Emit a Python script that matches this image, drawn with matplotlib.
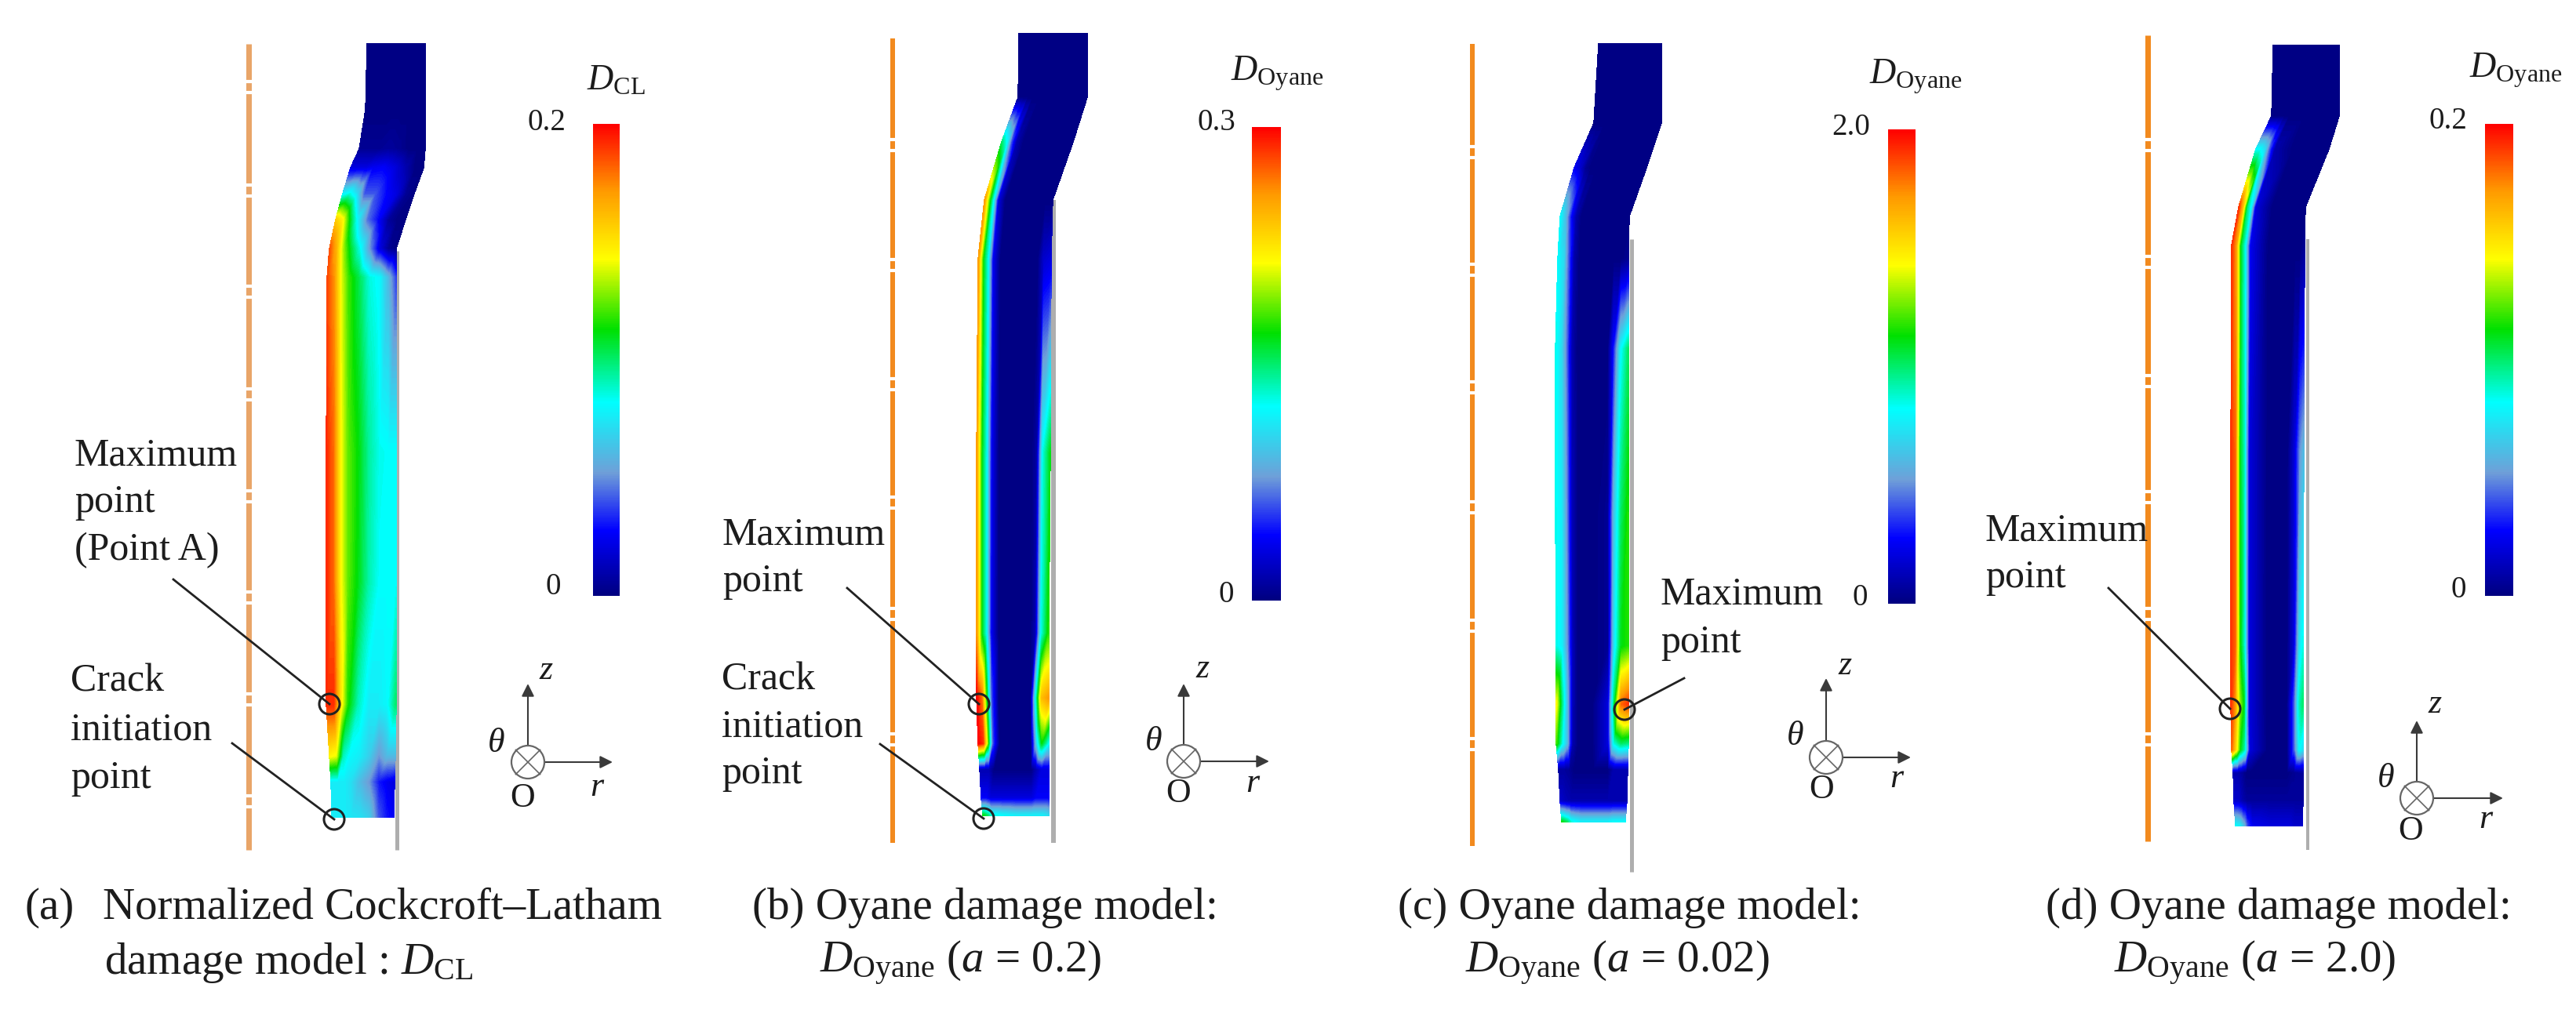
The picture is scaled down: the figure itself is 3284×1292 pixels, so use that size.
import numpy as np
import matplotlib
matplotlib.use('Agg')
import matplotlib.pyplot as plt
import matplotlib.tri as mtri
from matplotlib import cm
from matplotlib.colors import LinearSegmentedColormap, Normalize
from matplotlib.patches import Circle, Ellipse

plt.rcParams['font.family'] = ['Liberation Serif', 'DejaVu Serif']
plt.rcParams['mathtext.fontset'] = 'custom'
plt.rcParams['mathtext.rm'] = 'Liberation Serif'
plt.rcParams['mathtext.it'] = 'Liberation Serif:italic'

# all positions below are pixels of the 3284x1292 picture
W, H = 3284, 1292
TEXT = '#1c1c1c'

# damage colour scale, fractions
cmap = LinearSegmentedColormap.from_list('damage', [
    (0.0, '#000080'), (0.137, '#0000ff'), (0.26, '#6f9fd8'), (0.41, '#00ffff'),
    (0.565, '#00e000'), (0.714, '#ffff00'), (0.86, '#ff9900'), (1.0, '#ff0000')])

# panel a: normalized Cockcroft-Latham
a_y = [56, 140, 190, 214, 247, 280, 317, 354, 577, 742, 898, 964, 997, 1042]
a_left = [468, 466, 458, 447, 437, 428, 420, 417, 416, 416, 416, 420, 422, 423]
a_right = [542, 542, 542, 540, 528, 517, 505, 505, 505, 505, 505, 504, 503, 502]
a_u = [0, .1, .2, .3, .45, .6, .75, .88, 1]
a_field = [
    [0, 0, 0, 0, 0, 0, 0, 0, 0],
    [0, 0, 0, 0, 0, 0, 0, 0, 0],
    [.02, .02, .02, .02, .03, .02, 0, 0, 0],
    [.1, .1, .1, .12, .13, .1, .05, 0, 0],
    [.38, .42, .35, .2, .2, .14, .1, .02, 0],
    [.78, .72, .55, .4, .22, .14, .03, 0, 0],
    [.92, .82, .66, .55, .42, .25, .1, .02, 0],
    [.93, .86, .7, .6, .52, .43, .4, .3, .18],
    [.96, .9, .72, .62, .56, .47, .42, .41, .41],
    [.96, .9, .72, .62, .55, .46, .41, .41, .41],
    [.96, .96, .75, .58, .45, .38, .38, .4, .5],
    [.72, .7, .45, .4, .38, .33, .25, .3, .3],
    [.38, .38, .38, .36, .3, .25, .15, .12, .1],
    [.38, .38, .38, .37, .36, .33, .2, .15, .12],
]

# panel b: Oyane a = 0.2
b_y = [43, 124, 181, 255, 330, 577, 808, 890, 948, 981, 1018, 1040]
b_left = [1299, 1298, 1277, 1255, 1247, 1245, 1245, 1245, 1247, 1249, 1251, 1253]
b_right = [1386, 1386, 1368, 1342, 1340, 1339, 1337, 1337, 1337, 1337, 1337, 1337]
b_u = [0, .07, .13, .2, .3, .5, .75, .82, .9, 1]
b_field = [
    [0, 0, 0, 0, 0, 0, 0, 0, 0, 0],
    [0, 0, 0, 0, 0, 0, 0, 0, 0, 0],
    [.5, .4, .2, .05, 0, 0, 0, 0, 0, 0],
    [.85, .6, .4, .1, 0, 0, 0, 0, 0, 0],
    [.85, .55, .42, .12, 0, 0, 0, 0, .08, .1],
    [.85, .55, .42, .12, 0, 0, 0, .04, .42, .55],
    [.85, .55, .42, .12, 0, 0, 0, .05, .42, .58],
    [1, .9, .6, .2, 0, 0, 0, .4, .8, .85],
    [1, .95, .65, .2, 0, 0, 0, .3, .55, .4],
    [.05, .05, .05, 0, 0, 0, 0, .05, .1, .1],
    [.13, .13, .1, .1, .1, .1, .1, .13, .13, .13],
    [.55, .5, .42, .42, .4, .38, .38, .38, .38, .35],
]

# panel c: Oyane a = 0.02
c_y = [56, 157, 214, 276, 330, 445, 659, 824, 898, 948, 981, 1022, 1048]
c_left = [2038, 2032, 2007, 1989, 1986, 1983, 1983, 1984, 1984, 1984, 1987, 1989, 1991]
c_right = [2118, 2118, 2099, 2077, 2076, 2076, 2076, 2076, 2076, 2076, 2075, 2074, 2072]
c_u = [0, .08, .15, .22, .3, .5, .72, .8, .9, 1]
c_field = [
    [0, 0, 0, 0, 0, 0, 0, 0, 0, 0],
    [0, 0, 0, 0, 0, 0, 0, 0, 0, 0],
    [.12, .08, .02, 0, 0, 0, 0, 0, 0, 0],
    [.4, .3, .15, .05, 0, 0, 0, 0, 0, 0],
    [.4, .35, .2, .05, 0, 0, 0, 0, 0, .02],
    [.42, .35, .22, .05, 0, 0, 0, .15, .4, .5],
    [.42, .38, .25, .06, 0, 0, .02, .3, .5, .58],
    [.42, .38, .25, .06, 0, 0, .02, .35, .55, .58],
    [.72, .48, .3, .06, 0, 0, .1, .5, .9, .95],
    [.6, .42, .3, .05, 0, 0, .1, .42, .5, .48],
    [.03, .03, .02, 0, 0, 0, 0, .05, .05, .05],
    [.08, .06, .05, .05, .05, .05, .05, .05, .05, .05],
    [.55, .5, .42, .4, .38, .38, .38, .4, .4, .4],
]

# panel d: Oyane a = 2.0
d_y = [58, 148, 190, 264, 313, 577, 824, 898, 956, 985, 1022, 1053]
d_left = [2898, 2896, 2876, 2854, 2845, 2844, 2844, 2844, 2845, 2847, 2848, 2850]
d_right = [2982, 2982, 2969, 2939, 2938, 2937, 2936, 2936, 2936, 2936, 2936, 2935]
d_u = [0, .06, .12, .18, .25, .5, .78, .88, .95, 1]
d_field = [
    [0, 0, 0, 0, 0, 0, 0, 0, 0, 0],
    [0, 0, 0, 0, 0, 0, 0, 0, 0, 0],
    [.4, .4, .35, .2, .05, 0, 0, 0, 0, 0],
    [.95, .8, .5, .4, .1, 0, 0, 0, 0, 0],
    [.95, .85, .55, .42, .12, 0, 0, 0, 0, .02],
    [.95, .9, .55, .45, .1, 0, 0, .1, .25, .3],
    [.95, .9, .58, .45, .1, 0, 0, .1, .35, .42],
    [.95, .85, .65, .55, .1, 0, 0, .2, .45, .5],
    [.9, .75, .55, .45, .1, 0, 0, .2, .4, .35],
    [.05, .05, .03, 0, 0, 0, 0, .02, .03, .03],
    [.08, .08, .05, .03, .03, .03, .03, .03, .03, .03],
    [.4, .38, .3, .18, .12, .1, .1, .08, .08, .08],
]

# centre lines: x, top, bottom, gaps, colour, width
axis_lines = [
    (317, 56, 1084, [111, 243, 372, 503, 633, 762, 892, 1022], '#e9a568', 7),
    (1138, 49, 1075, [185, 338, 490, 641, 783, 943], '#f28a1e', 6),
    (1877, 56, 1079, [194, 344, 494, 647, 798, 949], '#f28a1e', 6),
    (2738, 45, 1073, [185, 334, 486, 634, 783, 943], '#f28a1e', 7),
]
# grey die wall: x, top, bottom, width
wall_lines = [(506, 320, 1084, 5), (1343, 255, 1075, 6), (2080, 305, 1112, 5), (2942, 305, 1084, 4)]

# colour bars: left, right, top, bottom, max label, label positions, symbol, symbol right edge
bars = [
    (756, 790, 158, 760, '0.2', (697, 157), (705, 748), r'$D_{\mathrm{CL}}$', (823, 103)),
    (1596, 1633, 162, 766, '0.3', (1551, 157), (1563, 758), r'$D_{\mathrm{Oyane}}$', (1688, 94)),
    (2407, 2442, 165, 770, '2.0', (2360, 163), (2371, 762), r'$D_{\mathrm{Oyane}}$', (2502, 98)),
    (3168, 3204, 158, 760, '0.2', (3121, 154), (3134, 752), r'$D_{\mathrm{Oyane}}$', (3267, 90)),
]

# r-z triad: origin, z top, r end, then z, theta, O, r label positions
triads = [
    ((673, 972), 872, 781, (696, 855), (633, 948), (666, 1018), (761, 1004)),
    ((1509, 971), 872, 1618, (1533, 853), (1471, 946), (1502, 1012), (1597, 999)),
    ((2328, 966), 865, 2436, (2352, 849), (2289, 939), (2322, 1007), (2418, 993)),
    ((3081, 1018), 919, 3191, (3104, 898), (3042, 993), (3073, 1060), (3169, 1045)),
]

# notes: text lines with left edge and line centres
notes = [
    (95, ['Maximum', 'point', '(Point A)'], [581, 641, 702]),
    (90, ['Crack', 'initiation', 'point'], [869, 931, 993]),
    (921, ['Maximum', 'point'], [682, 742]),
    (920, ['Crack', 'initiation', 'point'], [867, 927, 987]),
    (2117, ['Maximum', 'point'], [758, 820]),
    (2531, ['Maximum', 'point'], [677, 737]),
]
# leaders: start of the line, centre of the circle
leaders = [
    ((221, 739), (420, 898)), ((296, 948), (426, 1045)),
    ((1080, 750), (1248, 898)), ((1122, 949), (1254, 1044)),
    ((2147, 865), (2071, 905)),
    ((2688, 750), (2843, 904)),
]

# captions: text, x, y, horizontal alignment
captions = [
    ('(a)', 31, 1158, 'left'),
    ('Normalized Cockcroft\u2013Latham', 131, 1158, 'left'),
    (r'damage model : $D_{\mathrm{CL}}$', 133, 1228, 'left'),
    ('(b) Oyane damage model:', 1256, 1158, 'center'),
    (r'$D_{\mathrm{Oyane}}$ ($a$ = 0.2)', 1225, 1228, 'center'),
    ('(c) Oyane damage model:', 2077, 1158, 'center'),
    (r'$D_{\mathrm{Oyane}}$ ($a$ = 0.02)', 2062, 1228, 'center'),
    ('(d) Oyane damage model:', 2905, 1158, 'center'),
    (r'$D_{\mathrm{Oyane}}$ ($a$ = 2.0)', 2875, 1228, 'center'),
]


def px(size):
    # font size given in pixels of the picture
    return size * 0.72


def drawSpecimen(ax, y, left, right, u, field):
    y, left, right, u = map(np.asarray, (y, left, right, u))
    field = np.asarray(field, dtype=float)
    xx = left[:, None] + (right - left)[:, None] * u[None, :]
    yy = np.repeat(y[:, None], len(u), axis=1)
    n_u = len(u)
    triangles = []
    for j in range(len(y) - 1):
        for i in range(n_u - 1):
            p = j * n_u + i
            triangles.append([p, p + 1, p + n_u])
            triangles.append([p + 1, p + n_u + 1, p + n_u])
    tri = mtri.Triangulation(xx.ravel(), yy.ravel(), triangles)
    cs = ax.tricontourf(tri, field.ravel(), levels=np.linspace(0, 1, 129), cmap=cmap,
                        extend='both', zorder=3)
    cs.set_edgecolor('face')
    cs.set_linewidth(0.3)


def drawAxisLine(ax, x, top, bottom, gaps, color, width):
    ax.plot([x, x], [top, bottom], color=color, lw=width * 0.72, solid_capstyle='butt', zorder=2)
    for g in gaps:
        for dy in (-7, 7):
            ax.plot([x - width, x + width], [g + dy, g + dy], color='white', lw=3.0, zorder=2.1)


def drawTriad(ax, origin, z_top, r_end, z_pos, theta_pos, o_pos, r_pos):
    ox, oy = origin
    col = '#3a3a3a'
    arrow = dict(arrowstyle='-|>', color=col, lw=1.5, mutation_scale=24, shrinkA=0, shrinkB=0)
    ax.annotate('', xy=(ox, z_top), xytext=(ox, oy), arrowprops=arrow, zorder=5)
    ax.annotate('', xy=(r_end, oy), xytext=(ox, oy), arrowprops=arrow, zorder=5)
    ax.add_patch(Circle(origin, 21, facecolor='white', edgecolor='#666666', lw=1.6, zorder=6))
    d = 21 * 0.74
    ax.plot([ox - d, ox + d], [oy - d, oy + d], color='#666666', lw=1.2, zorder=7)
    ax.plot([ox - d, ox + d], [oy + d, oy - d], color='#666666', lw=1.2, zorder=7)
    for s, pos, style in [('z', z_pos, 'italic'), ('\u03b8', theta_pos, 'italic'),
                          ('O', o_pos, 'normal'), ('r', r_pos, 'italic')]:
        ax.text(pos[0], pos[1], s, fontsize=px(44), style=style, color=TEXT,
                ha='center', va='center', zorder=8)


fig = plt.figure(figsize=(W / 100, H / 100), dpi=100)
ax = fig.add_axes([0, 0, 1, 1])
ax.set_xlim(0, W)
ax.set_ylim(H, 0)
ax.axis('off')

for line in axis_lines:
    drawAxisLine(ax, *line)
for x, top, bottom, width in wall_lines:
    ax.plot([x, x], [top, bottom], color='#aeaeae', lw=width * 0.72, solid_capstyle='butt', zorder=2)

drawSpecimen(ax, a_y, a_left, a_right, a_u, a_field)
drawSpecimen(ax, b_y, b_left, b_right, b_u, b_field)
drawSpecimen(ax, c_y, c_left, c_right, c_u, c_field)
drawSpecimen(ax, d_y, d_left, d_right, d_u, d_field)

for left, right, top, bottom, max_label, max_pos, zero_pos, symbol, symbol_pos in bars:
    cax = fig.add_axes([left / W, 1 - bottom / H, (right - left) / W, (bottom - top) / H])
    cbar = fig.colorbar(cm.ScalarMappable(Normalize(0, float(max_label)), cmap), cax=cax, ticks=[])
    cbar.outline.set_visible(False)
    ax.text(*max_pos, max_label, fontsize=px(39), color=TEXT, ha='center', va='center')
    ax.text(*zero_pos, '0', fontsize=px(39), color=TEXT, ha='center', va='center')
    ax.text(*symbol_pos, symbol, fontsize=px(46), color=TEXT, ha='right', va='center')

for left, lines, ys in notes:
    for s, y in zip(lines, ys):
        ax.text(left, y, s, fontsize=px(50), color=TEXT, ha='left', va='center', zorder=8)

for start, centre in leaders:
    ax.plot([start[0], centre[0]], [start[1], centre[1]], color='#222222', lw=2.0, zorder=5)
    ax.add_patch(Ellipse(centre, 26, 26, facecolor='none', edgecolor='#222222', lw=2.2, zorder=6))

for triad in triads:
    drawTriad(ax, *triad)

for s, x, y, ha in captions:
    ax.text(x, y, s, fontsize=px(57), color=TEXT, ha=ha, va='center')

fig.savefig('out.png', dpi=100)
